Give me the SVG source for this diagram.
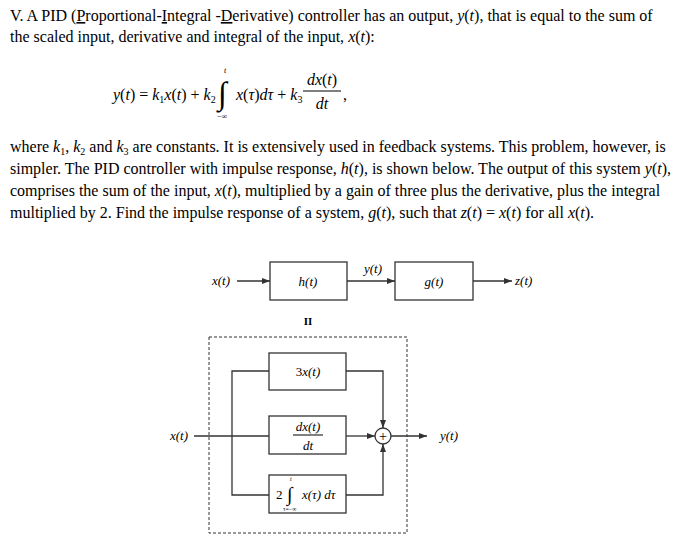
<svg xmlns="http://www.w3.org/2000/svg" width="696" height="536" viewBox="0 0 696 536">
<style>
text{font-family:"Liberation Serif",serif;fill:#000}
.p{font-size:16px}
.m{font-size:13px;font-style:italic}
.b{fill:#fff;stroke:#333;stroke-width:1.3}
.l{fill:none;stroke:#333;stroke-width:1.3}
</style>
<defs><marker id="a" markerWidth="8" markerHeight="6" refX="8" refY="3" orient="auto" markerUnits="userSpaceOnUse"><path d="M0,0L8,3L0,6z" fill="#333"/></marker></defs>
<rect width="696" height="536" fill="#fff"/>
<text class="p" x="10" y="21">V. A PID (<tspan text-decoration="underline">P</tspan>roportional-<tspan text-decoration="underline">I</tspan>ntegral -<tspan text-decoration="underline">D</tspan>erivative) controller has an output, <tspan font-style="italic">y</tspan>(<tspan font-style="italic">t</tspan>), that is equal to the sum of</text>
<text class="p" x="10" y="42">the scaled input, derivative and integral of the input, <tspan font-style="italic">x</tspan>(<tspan font-style="italic">t</tspan>):</text>
<g>
<text class="p" x="113" y="100"><tspan font-style="italic">y</tspan>(<tspan font-style="italic">t</tspan>) = <tspan font-style="italic">k</tspan><tspan font-size="10" dy="3">1</tspan><tspan dy="-3" font-style="italic">x</tspan>(<tspan font-style="italic">t</tspan>) + <tspan font-style="italic">k</tspan><tspan font-size="10" dy="3">2</tspan></text>
<text x="218" y="104" font-size="32">∫</text>
<text x="224" y="73" font-size="8" font-style="italic">t</text>
<text x="217" y="119" font-size="8">−∞</text>
<text class="p" x="236" y="100"><tspan font-style="italic">x</tspan>(<tspan font-style="italic">τ</tspan>)<tspan font-style="italic">dτ</tspan> + <tspan font-style="italic">k</tspan><tspan font-size="10" dy="3">3</tspan></text>
<text class="p" x="322" y="85" text-anchor="middle"><tspan font-style="italic">dx</tspan>(<tspan font-style="italic">t</tspan>)</text>
<line x1="303" y1="91" x2="341" y2="91" stroke="#000" stroke-width="1"/>
<text class="p" x="322" y="109" text-anchor="middle" font-style="italic">dt</text>
<text class="p" x="343" y="100">,</text>
</g>
<text class="p" x="10" y="152">where <tspan font-style="italic">k</tspan><tspan font-size="10" dy="3">1</tspan><tspan dy="-3">, </tspan><tspan font-style="italic">k</tspan><tspan font-size="10" dy="3">2</tspan><tspan dy="-3"> and </tspan><tspan font-style="italic">k</tspan><tspan font-size="10" dy="3">3</tspan><tspan dy="-3"> are constants. It is extensively used in feedback systems. This problem, however, is</tspan></text>
<text class="p" x="10" y="174">simpler. The PID controller with impulse response, <tspan font-style="italic">h</tspan>(<tspan font-style="italic">t</tspan>), is shown below. The output of this system <tspan font-style="italic">y</tspan>(<tspan font-style="italic">t</tspan>),</text>
<text class="p" x="10" y="196">comprises the sum of the input, <tspan font-style="italic">x</tspan>(<tspan font-style="italic">t</tspan>), multiplied by a gain of three plus the derivative, plus the integral</text>
<text class="p" x="10" y="218">multiplied by 2. Find the impulse response of a system, <tspan font-style="italic">g</tspan>(<tspan font-style="italic">t</tspan>), such that <tspan font-style="italic">z</tspan>(<tspan font-style="italic">t</tspan>) = <tspan font-style="italic">x</tspan>(<tspan font-style="italic">t</tspan>) for all <tspan font-style="italic">x</tspan>(<tspan font-style="italic">t</tspan>).</text>

<g id="connectors">
<line class="l" x1="237" y1="281" x2="270" y2="281" marker-end="url(#a)"/>
<line class="l" x1="347" y1="281" x2="395" y2="281" marker-end="url(#a)"/>
<line class="l" x1="473" y1="281" x2="512" y2="281" marker-end="url(#a)"/>
<line class="l" x1="194" y1="436" x2="269" y2="436"/>
<polyline class="l" points="269,371 232,371 232,495 269,495"/>
<line class="l" x1="346" y1="436" x2="375" y2="436" marker-end="url(#a)"/>
<polyline class="l" points="346,371 383,371 383,428" marker-end="url(#a)"/>
<polyline class="l" points="346,495 383,495 383,444" marker-end="url(#a)"/>
<line class="l" x1="391" y1="436" x2="427" y2="436" marker-end="url(#a)"/>
</g>
<g id="xin"><text class="m" x="212" y="285">x(t)</text></g>
<g id="h"><rect class="b" x="270" y="262" width="77" height="38"/><text class="m" x="308" y="286" text-anchor="middle">h(t)</text></g>
<text class="m" x="373" y="273" text-anchor="middle">y(t)</text>
<g id="g"><rect class="b" x="395" y="262" width="78" height="38"/><text class="m" x="434" y="286" text-anchor="middle">g(t)</text></g>
<g id="z"><text class="m" x="515" y="285">z(t)</text></g>
<text x="308" y="325" font-size="11" font-family="Liberation Sans,sans-serif" text-anchor="middle" font-weight="bold">II</text>
<g id="pid"><rect x="209" y="337" width="198" height="196" fill="none" stroke="#333" stroke-width="1" stroke-dasharray="3,2"/></g>
<g id="xin2"><text class="m" x="170" y="440">x(t)</text></g>
<g id="k3"><rect class="b" x="269" y="353" width="77" height="37"/><text class="m" x="308" y="376" text-anchor="middle"><tspan font-style="normal">3</tspan>x(t)</text></g>
<g id="d"><rect class="b" x="269" y="416" width="77" height="38"/><text class="m" x="308" y="431" text-anchor="middle">dx(t)</text><line x1="293" y1="435" x2="323" y2="435" stroke="#000"/><text class="m" x="308" y="450" text-anchor="middle">dt</text></g>
<g id="i"><rect class="b" x="269" y="475" width="77" height="38"/><text x="276" y="499" font-size="13">2</text><text x="287" y="501" font-size="20">∫</text><text x="290" y="481" font-size="6" font-style="italic">t</text><text x="283" y="511" font-size="6">τ=−∞</text><text class="m" x="302" y="499">x(τ) dτ</text></g>
<g id="sum"><circle cx="383" cy="436" r="8" fill="#fff" stroke="#333" stroke-width="1.3"/><text x="383" y="441" font-size="14" text-anchor="middle" font-family="Liberation Sans,sans-serif">+</text></g>
<g id="yout"><text class="m" x="440" y="440">y(t)</text></g>
</svg>
